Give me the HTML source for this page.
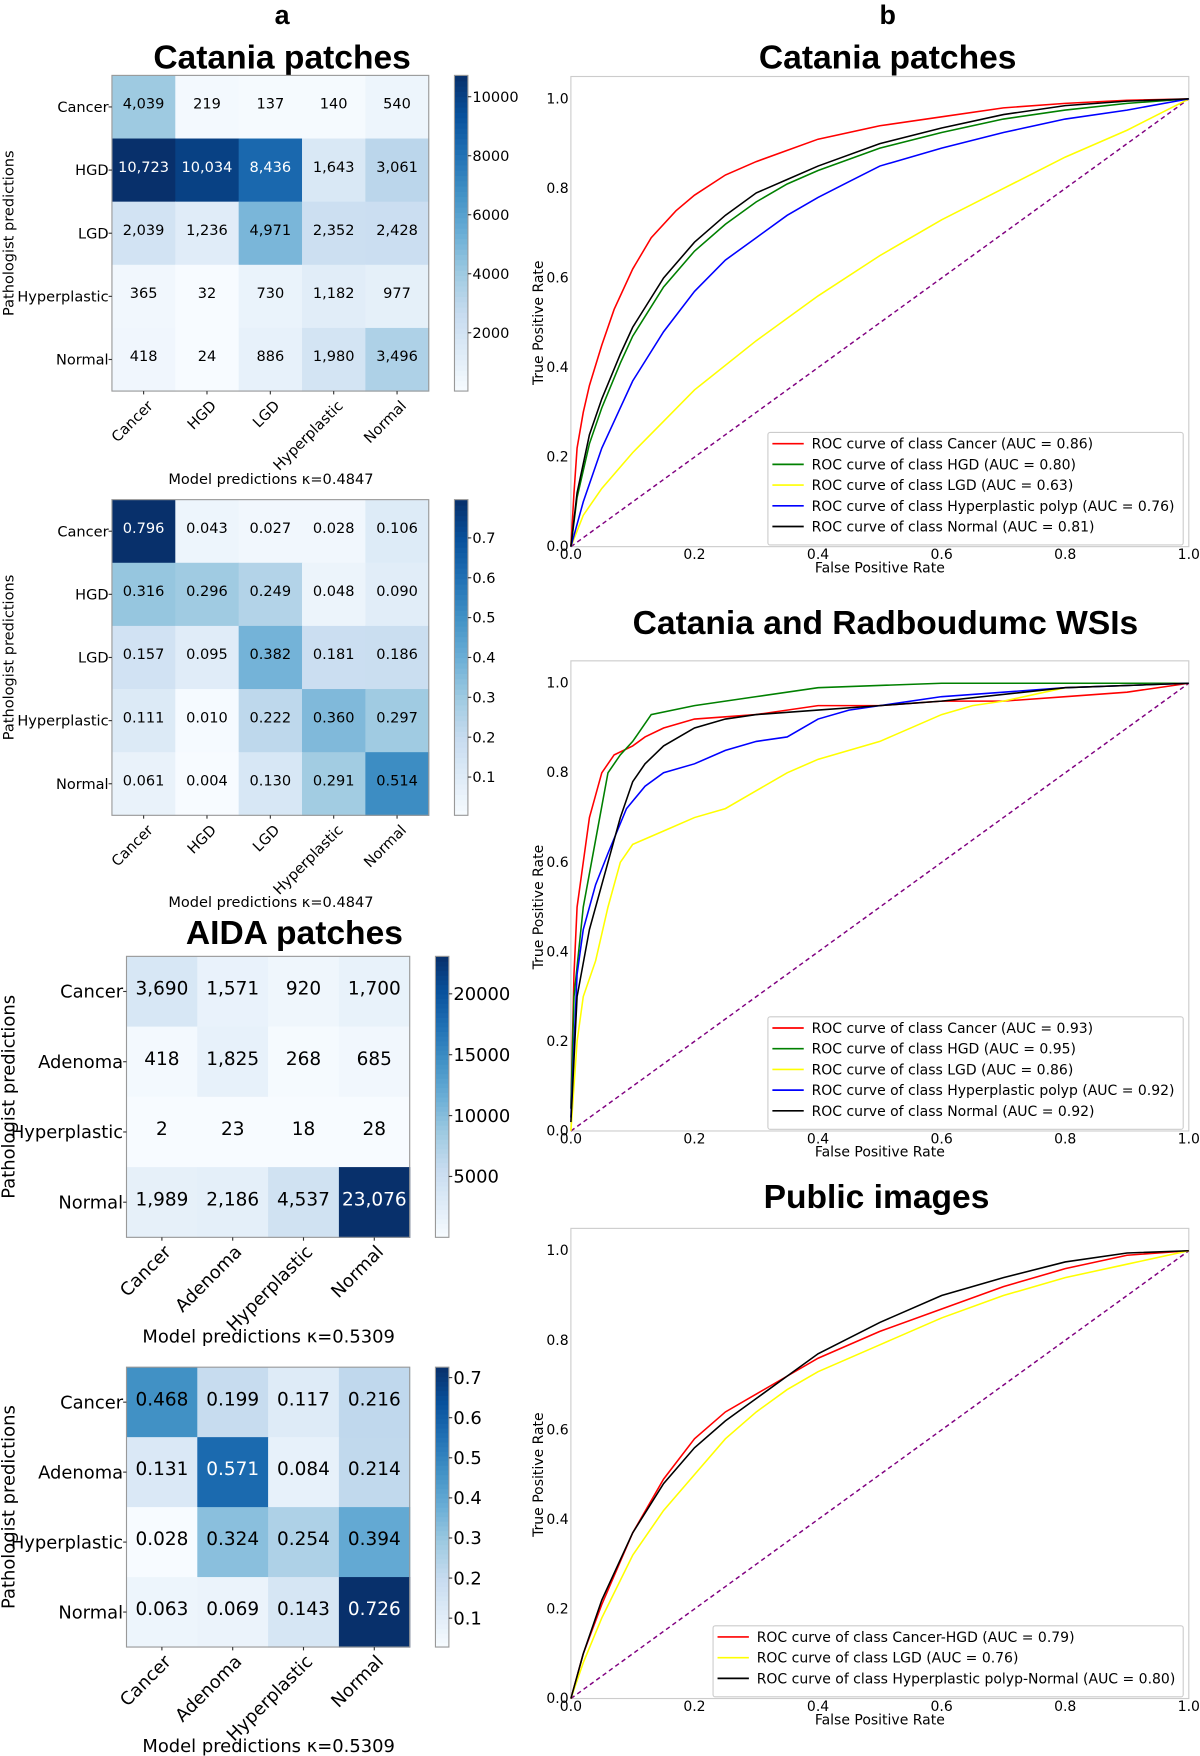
<!DOCTYPE html>
<html><head><meta charset="utf-8"><style>
html,body{margin:0;padding:0;background:#fff;}
svg{display:block;font-family:"DejaVu Sans","Liberation Sans",sans-serif;}
</style></head><body>
<svg id="fig" width="1200" height="1756" viewBox="0 0 1072 1568" xmlns="http://www.w3.org/2000/svg">
<text x="252" y="21" font-size="24" font-weight="bold" text-anchor="middle" font-family="Liberation Sans">a</text>
<text x="793" y="21" font-size="24" font-weight="bold" text-anchor="middle" font-family="Liberation Sans">b</text>
<text x="252" y="61" font-size="30" font-weight="bold" text-anchor="middle" font-family="Liberation Sans">Catania patches</text>
<text x="263" y="843" font-size="30" font-weight="bold" text-anchor="middle" font-family="Liberation Sans">AIDA patches</text>
<text x="793" y="61" font-size="30" font-weight="bold" text-anchor="middle" font-family="Liberation Sans">Catania patches</text>
<text x="791" y="566" font-size="30" font-weight="bold" text-anchor="middle" font-family="Liberation Sans">Catania and Radboudumc WSIs</text>
<text x="783" y="1079" font-size="30" font-weight="bold" text-anchor="middle" font-family="Liberation Sans">Public images</text>
</svg>
<script>
// ---------- data ----------
const catLabels5 = ["Cancer","HGD","LGD","Hyperplastic","Normal"];
const catLabels4 = ["Cancer","Adenoma","Hyperplastic","Normal"];
const cm1 = [[4039,219,137,140,540],[10723,10034,8436,1643,3061],[2039,1236,4971,2352,2428],[365,32,730,1182,977],[418,24,886,1980,3496]];
const cm1Text = [["4,039","219","137","140","540"],["10,723","10,034","8,436","1,643","3,061"],["2,039","1,236","4,971","2,352","2,428"],["365","32","730","1,182","977"],["418","24","886","1,980","3,496"]];
const cm2 = [[0.796,0.043,0.027,0.028,0.106],[0.316,0.296,0.249,0.048,0.090],[0.157,0.095,0.382,0.181,0.186],[0.111,0.010,0.222,0.360,0.297],[0.061,0.004,0.130,0.291,0.514]];
const cm3 = [[3690,1571,920,1700],[418,1825,268,685],[2,23,18,28],[1989,2186,4537,23076]];
const cm3Text = [["3,690","1,571","920","1,700"],["418","1,825","268","685"],["2","23","18","28"],["1,989","2,186","4,537","23,076"]];
const cm4 = [[0.468,0.199,0.117,0.216],[0.131,0.571,0.084,0.214],[0.028,0.324,0.254,0.394],[0.063,0.069,0.143,0.726]];
const cb1Ticks = [2000,4000,6000,8000,10000];
const cb2Ticks = [0.1,0.2,0.3,0.4,0.5,0.6,0.7];
const cb3Ticks = [5000,10000,15000,20000];
const cb4Ticks = [0.1,0.2,0.3,0.4,0.5,0.6,0.7];
const rocTicks = [0,0.2,0.4,0.6,0.8,1.0];

const r1CancerX=[0,0.005,0.01,0.02,0.03,0.05,0.07,0.1,0.13,0.17,0.2,0.25,0.3,0.35,0.4,0.5,0.6,0.7,0.8,0.9,1];
const r1CancerY=[0,0.12,0.22,0.3,0.36,0.45,0.53,0.62,0.69,0.75,0.785,0.83,0.86,0.885,0.91,0.94,0.96,0.98,0.99,0.997,1];
const r1HgdX=[0,0.01,0.03,0.05,0.08,0.1,0.15,0.2,0.25,0.3,0.35,0.4,0.5,0.6,0.7,0.8,0.9,1];
const r1HgdY=[0,0.11,0.23,0.31,0.41,0.47,0.58,0.66,0.72,0.77,0.81,0.84,0.89,0.925,0.955,0.975,0.99,1];
const r1LgdX=[0,0.02,0.05,0.1,0.15,0.2,0.3,0.4,0.5,0.6,0.7,0.8,0.9,1];
const r1LgdY=[0,0.07,0.13,0.21,0.28,0.35,0.46,0.56,0.65,0.73,0.8,0.87,0.93,1];
const r1HypX=[0,0.02,0.05,0.08,0.1,0.15,0.2,0.25,0.3,0.35,0.4,0.45,0.5,0.6,0.7,0.8,0.9,1];
const r1HypY=[0,0.1,0.22,0.31,0.37,0.48,0.57,0.64,0.69,0.74,0.78,0.815,0.85,0.89,0.925,0.955,0.975,1];
const r1NorX=[0,0.01,0.03,0.05,0.08,0.1,0.15,0.2,0.25,0.3,0.35,0.4,0.5,0.6,0.7,0.8,0.9,1];
const r1NorY=[0,0.12,0.25,0.33,0.43,0.49,0.6,0.68,0.74,0.79,0.82,0.85,0.9,0.935,0.965,0.985,0.995,1];

const r2CancerX=[0,0.005,0.01,0.02,0.03,0.04,0.05,0.07,0.1,0.12,0.15,0.2,0.3,0.4,0.5,0.6,0.7,0.8,0.9,1];
const r2CancerY=[0.05,0.35,0.5,0.6,0.7,0.75,0.8,0.84,0.86,0.88,0.9,0.92,0.93,0.95,0.95,0.96,0.96,0.97,0.98,1];
const r2HgdX=[0,0.005,0.02,0.04,0.06,0.08,0.1,0.13,0.2,0.3,0.4,0.6,1];
const r2HgdY=[0.05,0.3,0.5,0.65,0.8,0.84,0.87,0.93,0.95,0.97,0.99,1,1];
const r2LgdX=[0,0.01,0.02,0.04,0.06,0.08,0.1,0.15,0.2,0.25,0.3,0.35,0.4,0.5,0.6,0.65,0.7,0.8,1];
const r2LgdY=[0,0.2,0.3,0.38,0.5,0.6,0.64,0.67,0.7,0.72,0.76,0.8,0.83,0.87,0.93,0.95,0.96,0.99,1];
const r2HypX=[0,0.01,0.02,0.04,0.06,0.09,0.12,0.15,0.2,0.25,0.3,0.35,0.4,0.45,0.5,0.6,0.8,1];
const r2HypY=[0.03,0.35,0.45,0.55,0.62,0.72,0.77,0.8,0.82,0.85,0.87,0.88,0.92,0.94,0.95,0.97,0.99,1];
const r2NorX=[0,0.01,0.03,0.05,0.08,0.1,0.12,0.15,0.2,0.25,0.3,0.4,0.5,0.6,0.8,1];
const r2NorY=[0.02,0.3,0.45,0.55,0.7,0.78,0.82,0.86,0.9,0.92,0.93,0.94,0.95,0.96,0.99,1];

const r3CanX=[0,0.02,0.05,0.1,0.15,0.2,0.25,0.3,0.35,0.4,0.5,0.6,0.7,0.8,0.9,1];
const r3CanY=[0,0.1,0.21,0.37,0.49,0.58,0.64,0.68,0.72,0.76,0.82,0.87,0.92,0.96,0.99,1];
const r3LgdX=[0,0.02,0.05,0.1,0.15,0.2,0.25,0.3,0.35,0.4,0.5,0.6,0.7,0.8,0.9,1];
const r3LgdY=[0,0.08,0.18,0.32,0.42,0.5,0.58,0.64,0.69,0.73,0.79,0.85,0.9,0.94,0.97,1];
const r3NorX=[0,0.02,0.05,0.1,0.15,0.2,0.25,0.3,0.35,0.4,0.5,0.6,0.7,0.8,0.9,1];
const r3NorY=[0,0.1,0.22,0.37,0.48,0.56,0.62,0.67,0.72,0.77,0.84,0.9,0.94,0.975,0.995,1];

// ---------- helpers ----------
const svg=document.getElementById('fig');
const NS='http://www.w3.org/2000/svg';
function mk(tag,attrs,parent){const e=document.createElementNS(NS,tag);for(const k in attrs)e.setAttribute(k,attrs[k]);(parent||svg).appendChild(e);return e;}
function txt(x,y,s,size,anchor,parent,extra){const t=mk('text',Object.assign({x:x,y:y,'font-size':size,'text-anchor':anchor||'middle'},extra||{}),parent);t.textContent=s;return t;}
const blues=[[247,251,255],[222,235,247],[198,219,239],[158,202,225],[107,174,214],[66,146,198],[33,113,181],[8,81,156],[8,48,107]];
function cmap(t){t=Math.max(0,Math.min(1,t));const p=t*8,i=Math.min(7,Math.floor(p)),f=p-i;const a=blues[i],b=blues[i+1];return 'rgb('+a.map((v,k)=>Math.round(v+(b[k]-v)*f)).join(',')+')';}

function heatmap(o){
  const g=mk('g',{});
  
  
  const n=o.data.length,m=o.data[0].length;
  const flat=o.data.flat(),vmin=Math.min(...flat),vmax=Math.max(...flat);
  const cw=(o.x1-o.x0)/m,ch=(o.y1-o.y0)/n;
  for(let i=0;i<n;i++)for(let j=0;j<m;j++){
    const v=o.data[i][j];
    const r=mk('rect',{x:o.x0+j*cw,y:o.y0+i*ch,width:cw+0.5,height:ch+0.5,fill:cmap((v-vmin)/(vmax-vmin))},g);
    
    
    const s=o.text?o.text[i][j]:v.toFixed(3);
    const t=txt(o.x0+(j+0.5)*cw,o.y0+(i+0.5)*ch+o.fs*0.35-3,s,o.fs,'middle',g,{fill:v>o.thr?'#fff':'#000'});
    
    
  }
  mk('rect',{x:o.x0,y:o.y0,width:o.x1-o.x0,height:o.y1-o.y0,fill:'none',stroke:'#999','stroke-width':1},g);
  for(let i=0;i<n;i++){
    const y=o.y0+(i+0.5)*ch;
    mk('line',{x1:o.x0-3,x2:o.x0,y1:y,y2:y,stroke:'#333'},g);
    const t=txt(o.x0-3,y+o.lfs*0.35,o.labels[i],o.lfs,'end',g);
    
    
  }
  for(let j=0;j<m;j++){
    const x=o.x0+(j+0.5)*cw;
    mk('line',{x1:x,x2:x,y1:o.y1,y2:o.y1+3,stroke:'#333'},g);
    const ax=x+9, ay=o.y1+14;
    const t=txt(ax,ay,o.labels[j],o.lfs,'end',g,{transform:'rotate(-45 '+ax+' '+ay+')'});
    
    
  }
  const yl=txt(0,0,'Pathologist predictions',o.lfs,'middle',g,{transform:'translate('+o.ylx+','+((o.y0+o.y1)/2)+') rotate(-90)'});
  
  
  const xl=txt(o.xlcx,o.xly,'Model predictions κ='+o.kappa,o.lfs,'middle',g);
  
  
  const cb=mk('g',{},g);
  
  
  const steps=60,h=(o.y1-o.y0)/steps;
  for(let k=0;k<steps;k++)mk('rect',{x:o.cbx,y:o.y1-(k+1)*h,width:12,height:h+0.6,fill:cmap((k+0.5)/steps)},cb);
  mk('rect',{x:o.cbx,y:o.y0,width:12,height:o.y1-o.y0,fill:'none',stroke:'#999'},cb);
  o.ticks.forEach(tv=>{
    const y=o.y1-(tv-vmin)/(vmax-vmin)*(o.y1-o.y0);
    mk('line',{x1:o.cbx+12,x2:o.cbx+15,y1:y,y2:y,stroke:'#333'},cb);
    const t=txt(o.cbx+16,y+o.lfs*0.35,String(tv),o.lfs,'start',cb);
    
    
  });
}

heatmap({name:'confusion-matrix-catania-counts',data:cm1,text:cm1Text,labels:catLabels5,x0:100,x1:383,y0:67,y1:349,fs:13,lfs:13,thr:5000,cbx:406,ticks:cb1Ticks,ylx:12,xlcx:242,xly:432,kappa:'0.4847'});
heatmap({name:'confusion-matrix-catania-normalized',data:cm2,labels:catLabels5,x0:100,x1:383,y0:446,y1:728,fs:13,lfs:13,thr:0.6,cbx:406,ticks:cb2Ticks,ylx:12,xlcx:242,xly:810,kappa:'0.4847'});
heatmap({name:'confusion-matrix-aida-counts',data:cm3,text:cm3Text,labels:catLabels4,x0:113,x1:366,y0:854,y1:1105,fs:16.5,lfs:16,thr:12000,cbx:389,ticks:cb3Ticks,ylx:13,xlcx:240,xly:1199,kappa:'0.5309'});
heatmap({name:'confusion-matrix-aida-normalized',data:cm4,labels:catLabels4,x0:113,x1:366,y0:1221,y1:1471,fs:16.5,lfs:16,thr:0.5,cbx:389,ticks:cb4Ticks,ylx:13,xlcx:240,xly:1565,kappa:'0.5309'});

function roc(o){
  const g=mk('g',{});
  
  
  const X0=510,X1=1062,Y0=o.y0;
  const sx=v=>X0+v*(X1-X0), sy=v=>Y0-v*400;
  mk('rect',{x:X0,y:sy(1.05),width:X1-X0,height:420,fill:'#fff',stroke:'#ccc'},g);
  const d=mk('line',{x1:sx(0),y1:sy(0),x2:sx(1),y2:sy(1),stroke:'#800080','stroke-width':1.3,'stroke-dasharray':'4,3'},g);
  
  
  rocTicks.forEach(t=>{
    const a=txt(X0-2,sy(t)+4,t.toFixed(1),12.5,'end',g);
    
    
    const b=txt(sx(t),Y0+11,t.toFixed(1),12.5,'middle',g);
    
    
  });
  const yt=txt(0,0,'True Positive Rate',12.5,'middle',g,{transform:'translate(485,'+sy(0.5)+') rotate(-90)'});
  
  
  const xt=txt(786,Y0+23,'False Positive Rate',12.5,'middle',g);
  
  
  o.series.forEach(s=>{
    const p=mk('polyline',{points:s.x.map((v,i)=>sx(v)+','+sy(s.y[i])).join(' '),fill:'none',stroke:s.c,'stroke-width':1.4},g);
    
    
  });
  const lg=mk('g',{},g);
  
  
  mk('rect',{x:o.lx,y:o.ly,width:1057-o.lx,height:o.series.length*18.5+8,fill:'#fff',stroke:'#ccc',rx:2},lg);
  o.series.forEach((s,i)=>{
    const y=o.ly+10+i*18.5;
    mk('line',{x1:o.lx+4,x2:o.lx+32,y1:y,y2:y,stroke:s.c,'stroke-width':1.5},lg);
    const t=txt(o.lx+39,y+4.5,s.label,12.5,'start',lg);
    
    
  });
}
roc({name:'roc-catania-patches',y0:488,lx:686,ly:386,series:[
  {k:'cancer',c:'#ff0000',x:r1CancerX,y:r1CancerY,label:'ROC curve of class Cancer (AUC = 0.86)'},
  {k:'hgd',c:'#008000',x:r1HgdX,y:r1HgdY,label:'ROC curve of class HGD (AUC = 0.80)'},
  {k:'lgd',c:'#ffff00',x:r1LgdX,y:r1LgdY,label:'ROC curve of class LGD (AUC = 0.63)'},
  {k:'hyperplastic',c:'#0000ff',x:r1HypX,y:r1HypY,label:'ROC curve of class Hyperplastic polyp (AUC = 0.76)'},
  {k:'normal',c:'#000000',x:r1NorX,y:r1NorY,label:'ROC curve of class Normal (AUC = 0.81)'}]});
roc({name:'roc-wsi',y0:1010,lx:686,ly:908,series:[
  {k:'cancer',c:'#ff0000',x:r2CancerX,y:r2CancerY,label:'ROC curve of class Cancer (AUC = 0.93)'},
  {k:'hgd',c:'#008000',x:r2HgdX,y:r2HgdY,label:'ROC curve of class HGD (AUC = 0.95)'},
  {k:'lgd',c:'#ffff00',x:r2LgdX,y:r2LgdY,label:'ROC curve of class LGD (AUC = 0.86)'},
  {k:'hyperplastic',c:'#0000ff',x:r2HypX,y:r2HypY,label:'ROC curve of class Hyperplastic polyp (AUC = 0.92)'},
  {k:'normal',c:'#000000',x:r2NorX,y:r2NorY,label:'ROC curve of class Normal (AUC = 0.92)'}]});
roc({name:'roc-public-images',y0:1517,lx:637,ly:1452,series:[
  {k:'cancer-hgd',c:'#ff0000',x:r3CanX,y:r3CanY,label:'ROC curve of class Cancer-HGD (AUC = 0.79)'},
  {k:'lgd',c:'#ffff00',x:r3LgdX,y:r3LgdY,label:'ROC curve of class LGD (AUC = 0.76)'},
  {k:'hyperplastic-normal',c:'#000000',x:r3NorX,y:r3NorY,label:'ROC curve of class Hyperplastic polyp-Normal (AUC = 0.80)'}]});
</script>
</body></html>
